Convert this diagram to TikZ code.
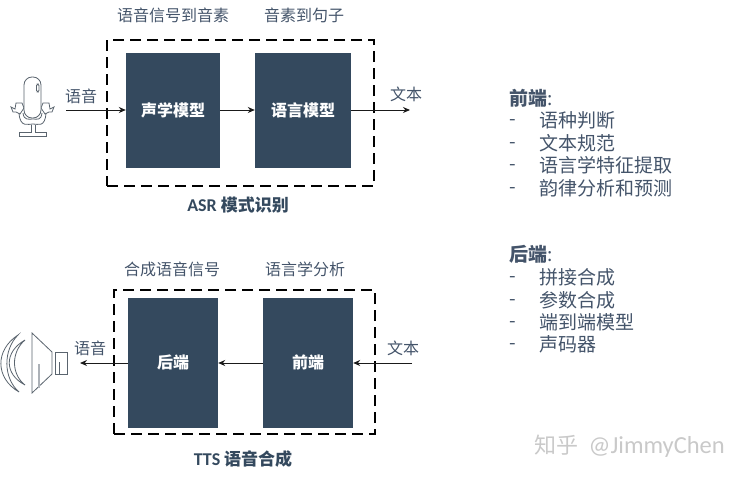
\documentclass[tikz,border=0pt]{standalone}
\usepackage{fontspec}
\setmainfont{Noto Sans CJK SC}
\newfontfamily\latinfont{Carlito}
\usetikzlibrary{arrows.meta}
\definecolor{block}{HTML}{34495E}
\definecolor{ink}{HTML}{44546A}
\definecolor{wire}{HTML}{1A1A1A}
\definecolor{icon}{HTML}{5A646E}
\definecolor{mark}{HTML}{C9C9C9}
\newcommand{\px}[1]{\fontsize{#1}{#1}\selectfont}
\tikzset{
  >={Stealth[length=7pt, width=6pt]},
  every node/.style={text=ink, inner sep=0pt},
  frame/.style={draw=black, line width=2.8pt, dash pattern=on 11pt off 6pt},
  stage/.style={fill=block, text=white, font=\px{16}\bfseries},
  lbl/.style={font=\px{16}},
  caption/.style={font=\px{17}\bfseries, text=block},
  head/.style={anchor=west, font=\px{19}\bfseries},
  item/.style={anchor=west, font=\px{19}},
  dashmark/.style={item, anchor=center, yshift=-3pt},
  trans/.style={->, line width=1pt, draw=wire},
  glyph/.style={draw=icon, line width=0.8pt, fill=white},
}

\begin{document}
\begin{tikzpicture}[x=1pt, y=-1pt]
  \useasboundingbox (0,0) rectangle (742,479);

  % ---------------------------------------------------------------- ASR
  \node[frame, minimum width=267pt, minimum height=146pt] (asrFrame) at (240.5,113) {};
  \node[stage, minimum width=94pt, minimum height=115pt] (acoustic) at (173,110.5) {\raisebox{2pt}{声学模型}};
  \node[stage, minimum width=96pt, minimum height=115pt] (language) at (303,110.5) {\raisebox{2pt}{语言模型}};
  \node[lbl] (asrLeftTitle) at (173,15) {语音信号到音素};
  \node[lbl] (asrRightTitle) at (304,15) {音素到句子};
  \node[caption] (asrCaption) at (236,205) {{\latinfont\px{18} ASR} 模式识别};

  \coordinate (speechIn) at (66,110);
  \coordinate (textOut) at (410,110);
  \draw[trans] (speechIn) -- (speechIn -| acoustic.west);
  \draw[trans] (acoustic.east |- speechIn) -- (language.west |- speechIn);
  \draw[trans] (language.east |- textOut) -- (textOut);
  \node[lbl] (speechInLbl) at (81,96) {语音};
  \node[lbl] (textOutLbl) at (406,94) {文本};

  % ---------------------------------------------------------------- TTS
  \node[frame, minimum width=261pt, minimum height=144pt] (ttsFrame) at (244.5,362) {};
  \node[stage, minimum width=90pt, minimum height=130pt] (backend) at (173,363) {\raisebox{2pt}{后端}};
  \node[stage, minimum width=90pt, minimum height=130pt] (frontend) at (308,363) {\raisebox{2pt}{前端}};
  \node[lbl] (ttsLeftTitle) at (172,269) {合成语音信号};
  \node[lbl] (ttsRightTitle) at (305,269) {语言学分析};
  \node[caption] (ttsCaption) at (241,459) {{\latinfont\px{18} TTS} 语音合成};

  \coordinate (textIn) at (412,363);
  \coordinate (speechOut) at (80,363);
  \draw[trans] (textIn) -- (frontend.east |- textIn);
  \draw[trans] (frontend.west) -- (backend.east);
  \draw[trans] (backend.west) -- (speechOut);
  \node[lbl] (textInLbl) at (403,348) {文本};
  \node[lbl] (speechOutLbl) at (90,348) {语音};

  % ---------------------------------------------------------------- microphone
  \draw[glyph, fill=none] (19,113) .. controls (20,128) and (28,124) .. (33,124) .. controls (38,124) and (45,128) .. (46,113);
  \draw[glyph, fill=none] (23,113) .. controls (24,121) and (29,119) .. (33,119) .. controls (37,119) and (41,121) .. (42,113);
  \draw[glyph, fill=none] (11,107) -- (15,109) -- (16,103) -- (22,103) -- (24,108) -- (20,114) -- (16,112) -- (13,112) -- cycle;
  \draw[glyph, fill=none] (54,107) -- (50,109) -- (49,103) -- (43,103) -- (41,108) -- (45,114) -- (49,112) -- (52,112) -- cycle;
  \draw[glyph, rounded corners=8pt] (24,118) -- (24,77) -- (41,77) -- (41,118) -- cycle;
  \draw[glyph, rounded corners=1.5pt] (36.5,84) rectangle (39,92);
  \draw[glyph, fill=none] (31,125) -- (31,132) -- (19,132) -- (19,136) -- (46,136) -- (46,132) -- (35,132) -- (35,125);

  % ---------------------------------------------------------------- speaker
  \draw[glyph] (32,333) -- (52,352) -- (52,374) -- (32,393) -- cycle;
  \fill[icon!50] (38,364) rectangle (40,388);
  \draw[glyph] (55,352) rectangle (67,374);
  \draw[draw=icon, line width=0.8pt] (59,362) -- (59,374);
  \draw[glyph] (18,335) .. controls (-5,350) and (-5,378) .. (19,392)
    .. controls (3,378) and (3,350) .. (18,335) -- cycle;
  \draw[glyph] (25,340) .. controls (4,352) and (4,374) .. (25,385)
    .. controls (11,374) and (11,352) .. (25,340) -- cycle;

  % ---------------------------------------------------------------- lists
  \node[head] (frontHead) at (509,98) {前端{\normalfont :}};
  \foreach \name/\title/\y in {lang/语种判断/120, norm/文本规范/143, feat/语言学特征提取/165, prosody/韵律分析和预测/188} {
    \node[item] (\name) at (539,\y) {\title};
    \node[dashmark] (\name Dash) at (513,\y) {-};
  }

  \node[head] (backHead) at (509,254) {后端{\normalfont :}};
  \foreach \name/\title/\y in {concat/拼接合成/277, param/参数合成/300, endtoend/端到端模型/322, vocoder/声码器/344} {
    \node[item] (\name) at (539,\y) {\title};
    \node[dashmark] (\name Dash) at (513,\y) {-};
  }

  % ---------------------------------------------------------------- watermark
  \node[anchor=west, font=\px{22}, text=mark] (watermark) at (534,446) {知乎 {\latinfont\px{24.5} @JimmyChen}};

\end{tikzpicture}
\end{document}
